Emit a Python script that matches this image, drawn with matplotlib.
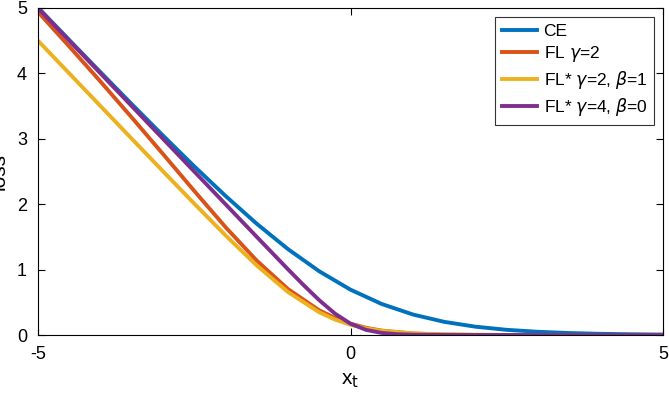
import matplotlib
matplotlib.use("Agg")
import matplotlib.pyplot as plt

x_ce = [-5,-4.5,-4,-3.5,-3,-2.5,-2,-1.5,-1,-0.5,0,0.5,1,1.5,2,2.5,3,3.5,4,4.5,5]
ce = [5.007,4.511,4.018,3.530,3.049,2.579,2.127,1.701,1.313,0.974,0.693,0.474,0.313,0.201,0.127,0.079,0.049,0.030,0.018,0.011,0.0067]

x_fl = [-5,-4.5,-4,-3.5,-3,-2.5,-2,-1.5,-1,-0.5,-0.25,0,0.25,0.5,1,1.5,2,2.5,3,5]
fl = [4.940,4.412,3.875,3.326,2.767,2.203,1.650,1.137,0.702,0.377,0.261,0.173,0.110,0.0676,0.0226,0.0067,0.0018,0.0005,0.0001,0.0]

x_fs1 = [-5,-4.5,-4,-3.5,-3,-2.5,-2,-1.5,-1,-0.5,-0.25,0,0.25,0.5,1,1.5,2,2.5,3,5]
fs1 = [4.500,4.000,3.5005,3.001,2.503,2.009,1.524,1.063,0.657,0.347,0.237,0.157,0.1007,0.0635,0.0243,0.0091,0.0034,0.0012,0.0005,0.0]

x_fs2 = [-5,-4.5,-4,-3.5,-3,-2.5,-2,-1.5,-1,-0.75,-0.5,-0.25,0,0.25,0.5,0.75,1,1.5,2,5]
fs2 = [5.0,4.5,4.0,3.5,3.0,2.5,2.0001,1.5006,1.0045,0.762,0.532,0.328,0.173,0.078,0.0317,0.0121,0.0045,0.0006,0.0001,0.0]

x_ticks = [-5, 0, 5]
x_ticklabels = ["-5", "0", "5"]
labels = ["CE", r"FL $\gamma$=2", r"FL* $\gamma$=2, $\beta$=1", r"FL* $\gamma$=4, $\beta$=0"]
colors = ["#0072BD", "#D95319", "#EDB120", "#7E2F8E"]

plt.rcParams['font.family'] = ['Liberation Sans', 'DejaVu Sans']
fig = plt.figure(figsize=(6.69, 4.05), dpi=100)
ax = fig.add_axes([38/669, 1-335/405, 625/669, 327/405])
for xs, ys, lab, c in zip([x_ce, x_fl, x_fs1, x_fs2], [ce, fl, fs1, fs2], labels, colors):
    ax.plot(xs, ys, color=c, lw=2.8, label=lab)
ax.set_xlim(-5, 5)
ax.set_ylim(0, 5)
ax.set_xticks(x_ticks)
ax.set_xticklabels(x_ticklabels)
ax.set_yticks([0, 1, 2, 3, 4, 5])
ax.tick_params(direction='in', labelsize=13, top=True, right=True, length=5)
ax.tick_params(axis='x', pad=8)
ax.tick_params(axis='y', pad=8)
ax.set_xlabel(r"x$_{\mathrm{t}}$", fontsize=15, labelpad=6)
ax.set_ylabel("loss", fontsize=15, labelpad=6)
leg = ax.legend(loc='upper right', fontsize=12.5, fancybox=False, edgecolor='black',
                handlelength=2.0, borderaxespad=0.5, labelspacing=0.3,
                handletextpad=0.4, borderpad=0.4)
leg.get_frame().set_linewidth(0.8)
fig.savefig("out.png", dpi=100)
